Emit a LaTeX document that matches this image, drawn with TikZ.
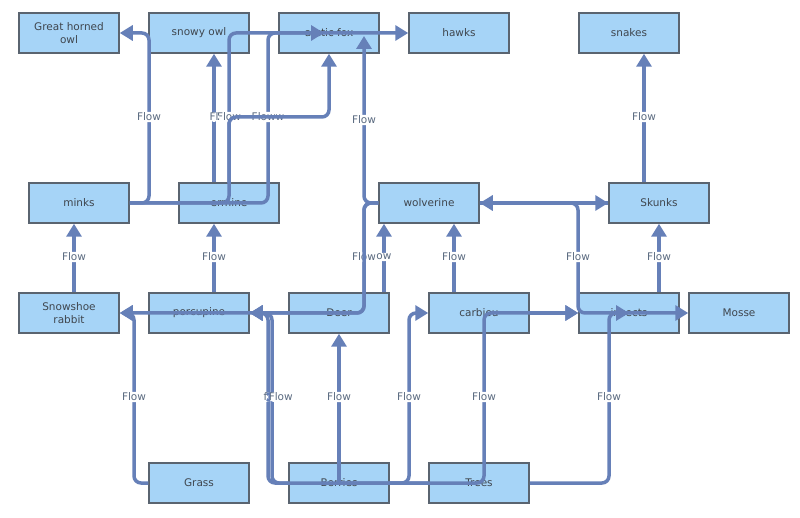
\documentclass[tikz,border=0pt]{standalone}
\usepackage{fontspec}
\setmainfont{DejaVu Sans}
\usetikzlibrary{arrows.meta}
\definecolor{boxf}{HTML}{A6D4F7}
\definecolor{boxd}{HTML}{5A6470}
\definecolor{ln}{HTML}{6680B8}
\definecolor{tx}{HTML}{5A6A80}
\begin{document}
\begin{tikzpicture}[x=1pt,y=-1pt,
  box/.style={draw=boxd,line width=1.5pt,fill=boxf,minimum width=100pt,minimum height=40pt,inner sep=1pt,align=center,font=\fontsize{10.5}{12.5}\selectfont,text=boxd!70!black},
  e/.style={draw=ln,line width=3.5pt,rounded corners=7pt,-{Triangle[width=15pt,length=13pt]}},
  lb/.style={fill=white,text=tx,inner sep=1pt,font=\fontsize{10.5}{12}\selectfont}]
\useasboundingbox (0,0) rectangle (800,518);
% nodes
\node[box] (gho) at (69,33) {Great horned\\owl};
\node[box] (snow) at (199,33) {snowy owl};
\node[box] (fox) at (329,33) {arctic fox};
\node[box] (hawk) at (459,33) {hawks};
\node[box] (snak) at (629,33) {snakes};
\node[box] (mink) at (79,203) {minks};
\node[box] (erm) at (229,203) {ermine};
\node[box] (wolv) at (429,203) {wolverine};
\node[box] (skun) at (659,203) {Skunks};
\node[box] (rab) at (69,313) {Snowshoe\\rabbit};
\node[box] (porc) at (199,313) {porcupine};
\node[box] (deer) at (339,313) {Deer};
\node[box] (carb) at (479,313) {carbiou};
\node[box] (ins) at (629,313) {insects};
\node[box] (mos) at (739,313) {Mosse};
\node[box] (gras) at (199,483) {Grass};
\node[box] (berr) at (339,483) {Berries};
\node[box] (tree) at (479,483) {Trees};
\coordinate (foxin) at (324,33);
\coordinate (foxup) at (364,36);
% edges
\draw[e] (mink.east) -- (149,203) -- (149,117) node[lb] {Flow} -- (149,33) -- (gho.east);
\draw[e] (mink.east) -- (229,203) -- (229,117) node[lb] {Flow} -- (229,33) -- (hawk.west);
\draw[e] (mink.east) -- (268,203) -- (268,117) node[lb] {Floww} -- (268,33) -- (foxin);
\draw[e] (erm.north -| 214,0) -- (214,117) node[lb] {Fl} -- (snow.south -| 214,0);
\draw[e] (229,183) -- (229,117) -- (329,117) -- (fox.south);
\draw[e] (wolv.west) -- (364,203) -- (364,120) node[lb] {Flow} -- (foxup);
\draw[e] (wolv.west) -- (364,203) -- (364,257) node[lb] {Flow} -- (364,313) -- (porc.east);
\draw[e] (wolv.west) -- (364,203) -- (364,313) -- (rab.east);
\draw[e] (deer.north -| 384,0) -- (384,257) node[lb] {ow} -- (wolv.south -| 384,0);
\draw[e] (carb.north -| 454,0) -- (454,257) node[lb] {Flow} -- (wolv.south -| 454,0);
\draw[e] (ins.north -| 659,0) -- (659,257) node[lb] {Flow} -- (skun.south);
\draw[e] (skun.north -| 644,0) -- (644,117) node[lb] {Flow} -- (snak.south -| 644,0);
\draw[e] (wolv.east) -- (skun.west);
\draw[e] (skun.west) -- (wolv.east);
\draw[e] (wolv.east) -- (578,203) -- (578,257) node[lb] {Flow} -- (578,313) -- (mos.west);
\draw[e] (rab.north -| 74,0) -- (74,257) node[lb] {Flow} -- (mink.south -| 74,0);
\draw[e] (porc.north -| 214,0) -- (214,257) node[lb] {Flow} -- (erm.south -| 214,0);
\draw[e] (gras.west) -- (134,483) -- (134,397) node[lb] {Flow} -- (134,313) -- (rab.east);
\draw[e] (berr.west) -- (272,483) -- (272,397) node[lb,right=-6pt] {Flow} -- (272,313) -- (porc.east);
\draw[e] (tree.west) -- (268,483) -- (268,397) node[lb,left=-2pt] {f} -- (268,313) -- (porc.east);
\draw[e] (berr.center) -- (339,397) node[lb] {Flow} -- (deer.south);
\draw[e] (berr.east) -- (409,483) -- (409,397) node[lb] {Flow} -- (409,313) -- (carb.west);
\draw[e] (berr.center) -- (484,483) -- (484,397) node[lb] {Flow} -- (484,313) -- (ins.west);
\draw[e] (tree.east) -- (609,483) -- (609,397) node[lb] {Flow} -- (609,313) -- (ins.center);
\draw[e] (carb.east) -- (ins.west);
\end{tikzpicture}
\end{document}
